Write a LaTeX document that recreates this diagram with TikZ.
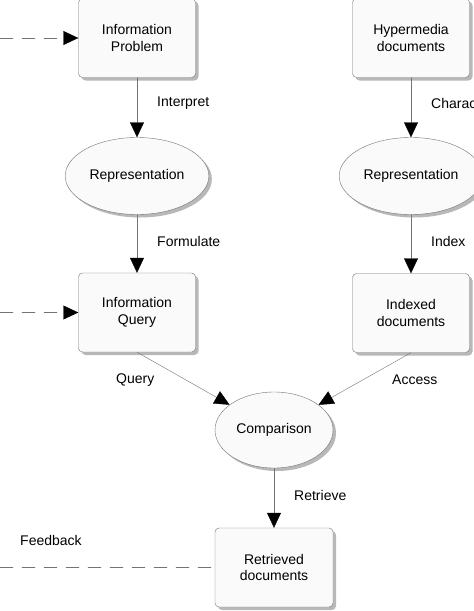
\documentclass[tikz,border=0pt]{standalone}
\usepackage{fontspec}
\setmainfont{Liberation Sans}
\usetikzlibrary{arrows.meta,shapes.geometric,shadows}

\begin{document}
\begin{tikzpicture}
			[x=1pt,y=-1pt,line cap=round,
			%Styles
			every node/.style={font=\fontsize{14}{16.5}\selectfont},
			box/.style={rectangle,rounded corners=4pt,draw=boxline,fill=boxfill,align=center,
				minimum width=117pt,minimum height=79pt,
				drop shadow={shadow xshift=3pt,shadow yshift=-3pt,fill=shadowcolor,opacity=1}},
			oval/.style={ellipse,draw=boxline,fill=boxfill,align=center,
				minimum width=117pt,minimum height=77pt,
				drop shadow={shadow xshift=3pt,shadow yshift=-3pt,fill=shadowcolor,opacity=1}},
			head/.style={-{Triangle[length=15pt,width=14pt,color=black]}},
			flow/.style={draw=linecolor,head},
			feedback/.style={draw=linecolor,dash pattern=on 13pt off 9pt},
			step text/.style={anchor=west,inner sep=0pt}
			]
			
			%Colors
			\colorlet{boxline}{black!55}
			\colorlet{boxfill}{black!2}
			\colorlet{shadowcolor}{black!28}
			\colorlet{linecolor}{black!55}
			
			\useasboundingbox (0,0) rectangle (474,611);
			
			%The graphic
			\node[box] (problem) at (137,38) {Information\\Problem};
			\node[box] (hyper) at (411,38) {Hypermedia\\documents};
			\node[oval] (repleft) at (137,176) {Representation};
			\node[oval] (repright) at (411,176) {Representation};
			\node[box] (query) at (137,312.5) {Information\\Query};
			\node[box] (indexed) at (411,313) {Indexed\\documents};
			\node[oval,minimum width=118pt,minimum height=76pt] (comparison) at (274,430) {Comparison};
			\node[box,minimum width=118pt] (retrieved) at (274,567.5) {Retrieved\\documents};
			
			\coordinate (fbtop) at (0,38);
			\coordinate (fbmid) at (0,312.5);
			\coordinate (fbend) at (0,567.5);
			
			\draw[flow] (problem) -- (repleft);
			\draw[flow] (hyper) -- (repright);
			\draw[flow] (repleft) -- (query);
			\draw[flow] (repright) -- (indexed);
			\draw[flow] (query.south) -- (comparison);
			\draw[flow] (indexed.south) -- (comparison);
			\draw[flow] (comparison) -- (retrieved);
			
			\draw[feedback,head] (fbtop) -- (problem.west);
			\draw[feedback,head] (fbmid) -- (query.west);
			\draw[feedback] (fbend) -- (retrieved.west);
			
			\node[step text] (interpret) at (157,103) {Interpret};
			\node[step text] (characterize) at (431,103) {Characterize};
			\node[step text] (formulate) at (157,241) {Formulate};
			\node[step text] (index) at (431,241) {Index};
			\node[step text] (querylabel) at (116,380) {Query};
			\node[step text] (access) at (392,380) {Access};
			\node[step text] (retrieve) at (294,495) {Retrieve};
			\node[step text] (feedbacklabel) at (20,540) {Feedback};
		\end{tikzpicture}
\end{document}
